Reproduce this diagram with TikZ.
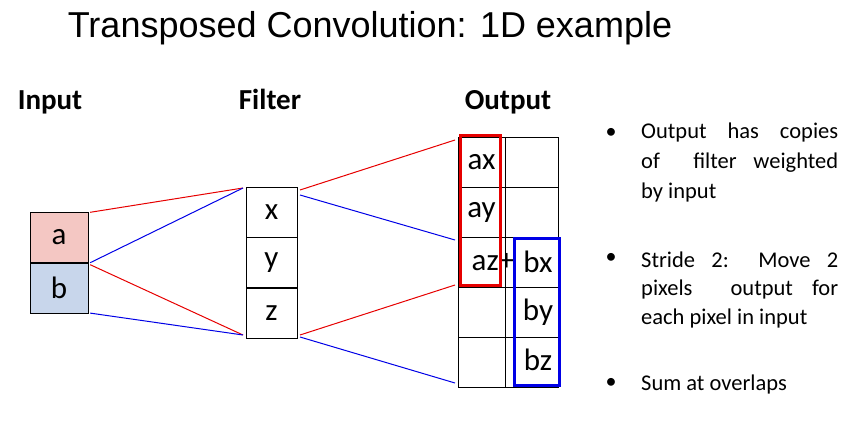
\documentclass[tikz,border=0pt]{standalone}
\usepackage{fontspec}
\setmainfont{Carlito}
\newfontfamily\titlefont{Liberation Sans}
\usetikzlibrary{positioning}
\definecolor{inred}{RGB}{244,199,195}
\definecolor{inblue}{RGB}{200,214,235}
\definecolor{boxred}{RGB}{230,0,0}
\definecolor{boxblue}{RGB}{0,0,230}
\tikzset{
  cell/.style={draw=black,minimum width=#1,minimum height=50pt,inner sep=0pt,font=\fontsize{31}{36}\selectfont},
  cell/.default=51pt,
  lbl/.style={font=\fontsize{31}{36}\selectfont,inner sep=0pt},
  head/.style={anchor=base,font=\fontsize{29}{34}\selectfont\bfseries},
  redl/.style={draw=boxred,line width=1pt},
  bluel/.style={draw=boxblue,line width=1pt},
  bullet/.style={anchor=west,inner sep=0pt,font=\fontsize{22.5}{27}\selectfont},
  dot/.style={font=\fontsize{22}{26}\selectfont}
}
\begin{document}
\begin{tikzpicture}[x=1pt,y=-1pt]
\useasboundingbox (0,0) rectangle (866,443);
% title
\node[font=\titlefont\fontsize{36}{42}\selectfont] (title) at (370,28) {Transposed Convolution: 1D example};
% headers
\node[head] (hin) at (50,110) {Input};
\node[head] (hfil) at (270,110) {Filter};
\node[head] (hout) at (508,110) {Output};
% input
\node[cell=58pt,fill=inred] (a) at (59,237.5) {a};
\node[cell=58pt,fill=inblue,below=0pt of a] (b) {b};
% filter
\node[cell] (x) at (271.5,212) {x};
\node[cell,below=0pt of x] (y) {y};
\node[cell,below=0pt of y] (z) {z};
% output grid
\foreach \r in {0,...,4}{
  \node[cell=47pt] (l\r) at (481.5,162+50*\r) {};
  \node[cell=53pt] (r\r) at (531.5,162+50*\r) {};
}
\node[lbl] at (l0) {ax};
\node[lbl] at (l1) {ay};
\node[lbl] at (493,262) {az+};
\node[lbl] at (538,262) {bx};
\node[lbl] at (538,312) {by};
\node[lbl] at (538,360) {bz};
% highlight boxes
\draw[boxred,line width=3pt] (460,136) rectangle (500,285);
\draw[boxblue,line width=3pt] (514,239) rectangle (559,385);
% connectors input to filter
\coordinate (fa) at (243,188);
\coordinate (fb) at (243,335);
\draw[redl] (a.north east) ++(2,0) -- (fa);
\draw[bluel] (a.south east) ++(2,0) -- (fa);
\draw[redl] (b.north east) ++(2,2) -- (fb);
\draw[bluel] (b.south east) ++(2,0) -- (fb);
% connectors filter to output
\draw[redl] (300,190) -- (455,140);
\draw[bluel] (300,195) -- (455,240);
\draw[redl] (300,335) -- (455,285);
\draw[bluel] (300,337) -- (455,383);
% notes
\node[dot] at (611,133) {\textbullet};
\node[bullet] (n1a) at (641,133) {\makebox[197pt][s]{Output has copies}};
\node[bullet] (n1b) at (641,163) {\makebox[197pt][s]{of\ \ filter weighted}};
\node[bullet] (n1c) at (641,193) {by input};
\node[dot] at (611,258) {\textbullet};
\node[bullet] (n2a) at (641,260) {\makebox[197pt][s]{Stride 2: Move 2}};
\node[bullet] (n2b) at (641,290) {\makebox[197pt][s]{pixels\ \ output for}};
\node[bullet] (n2c) at (641,319) {each pixel in\ input};
\node[dot] at (611,383) {\textbullet};
\node[bullet] (n3) at (641,384) {Sum at overlaps};
\end{tikzpicture}
\end{document}
